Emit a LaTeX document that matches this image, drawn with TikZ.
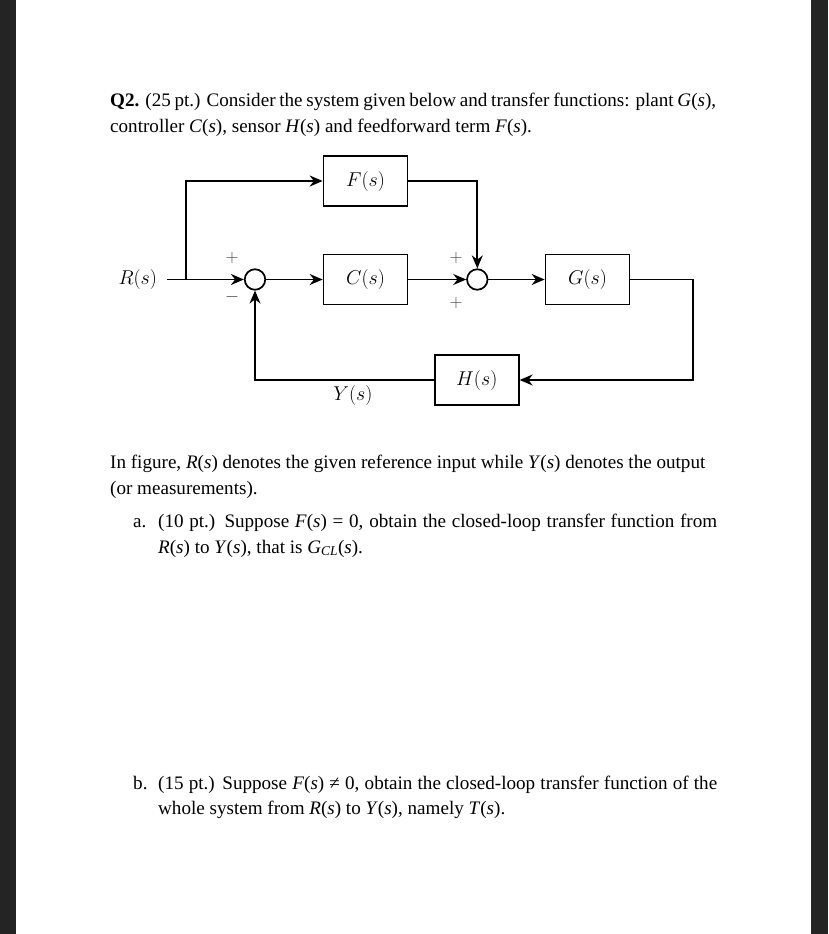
\RequirePackage{fix-cm}
\documentclass[tikz,border=0pt]{standalone}
\usepackage{amsmath}
\usepackage{fontspec}
\setmainfont{Liberation Serif}
\usepackage{tikz}
\usetikzlibrary{arrows.meta}

\definecolor{pagebar}{RGB}{36,36,36}
\newcommand{\iv}[1]{\textit{#1}}

\tikzset{
  block/.style={draw, line width=1.7pt, minimum width=84pt, minimum height=50pt, inner sep=0pt, font=\fontsize{20}{24}\selectfont},
  sumnode/.style={draw, circle, line width=1.7pt, minimum size=20.5pt, inner sep=0pt},
  sig/.style={line width=1.7pt, -{Stealth[length=13pt,width=11pt]}},
  sigtext/.style={inner sep=0pt, font=\fontsize{20}{24}\selectfont},
  signmark/.style={inner sep=0pt, text=black!75, font=\fontsize{18}{18}\selectfont},
  body/.style={anchor=base west, inner sep=0pt, font=\fontsize{19.1}{22}\selectfont},
}

\begin{document}
\begin{tikzpicture}[x=1pt,y=1pt,yscale=-1,xscale=1]
%Shape: page and dark side bars
\useasboundingbox (0,0) rectangle (828,934);
\fill [pagebar] (0,0) rectangle (16,934);
\fill [pagebar] (811,0) rectangle (828,934);

% Text Node
\node [body] (title1) at (110,106) {\makebox[606pt][s]{\textbf{Q2.} (25 pt.) Consider the system given below and transfer functions: plant \iv{G}(\iv{s}),}};
% Text Node
\node [body] (title2) at (110,132.5) {controller \iv{C}(\iv{s}), sensor \iv{H}(\iv{s}) and feedforward term \iv{F}(\iv{s}).};

%Shape: Rectangle
\node [block] (F) at (365.5,181) {$F(s)$};
%Shape: Rectangle
\node [block] (C) at (365.5,279.5) {$C(s)$};
%Shape: Rectangle
\node [block] (G) at (587.5,279.5) {$G(s)$};
%Shape: Rectangle
\node [block] (H) at (476.8,380) {$H(s)$};
%Shape: Circle
\node [sumnode] (S1) at (255,279.5) {};
%Shape: Circle
\node [sumnode] (S2) at (477.3,279.5) {};

% Text Node
\node [sigtext, inner xsep=9.5pt, anchor=east] (R) at (166.7,279.5) {$R(s)$};
% Text Node
\node [sigtext] (Y) at (353,395) {$Y(s)$};
% Text Node
\node [signmark] (p1) at (232,258) {$+$};
\node [signmark] (m1) at (232,297) {$-$};
\node [signmark] (p2) at (456,258) {$+$};
\node [signmark] (p3) at (456,303) {$+$};

\coordinate (branch) at (186,279.5);
\coordinate (out) at (692.7,279.5);

%Straight Lines
\draw [sig] (R.east) -- (S1.west);
\draw [sig] (branch) |- (F.west);
\draw [sig] (S1.east) -- (C.west);
\draw [sig] (F.east) -| (S2.north);
\draw [sig] (C.east) -- (S2.west);
\draw [sig] (S2.east) -- (G.west);
\draw [sig] (G.east) -- (out) |- (H.east);
\draw [sig] (H.west) -| (S1.south);

% Text Node
\node [body] (intro1) at (110,468) {In figure, \iv{R}(\iv{s}) denotes the given reference input while \iv{Y}(\iv{s}) denotes the output};
% Text Node
\node [body] (intro2) at (110,494) {(or measurements).};
% Text Node
\node [body] (itema) at (133,527) {a.};
\node [body] (parta1) at (158,527) {\makebox[559pt][s]{(10 pt.) Suppose \iv{F}(\iv{s}) = 0, obtain the closed-loop transfer function from}};
\node [body] (parta2) at (158,553) {\iv{R}(\iv{s}) to \iv{Y}(\iv{s}), that is \iv{G}\textsubscript{\iv{CL}}(\iv{s}).};
% Text Node
\node [body] (itemb) at (133,789) {b.};
\node [body] (partb1) at (158,789) {\makebox[559pt][s]{(15 pt.) Suppose \iv{F}(\iv{s}) ≠ 0, obtain the closed-loop transfer function of the}};
\node [body] (partb2) at (158,814) {whole system from \iv{R}(\iv{s}) to \iv{Y}(\iv{s}), namely \iv{T}(\iv{s}).};

\end{tikzpicture}
\end{document}
